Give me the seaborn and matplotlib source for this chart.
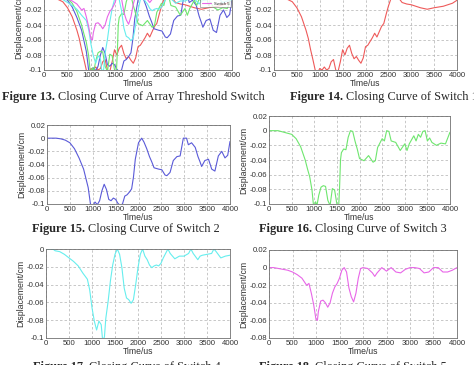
import numpy as np
import pandas as pd
import matplotlib
matplotlib.use("Agg")
import matplotlib.pyplot as plt
import seaborn as sns
from matplotlib.ticker import FuncFormatter

# values (time in us, displacement in cm)

t1 = [0, 100, 200, 300, 400, 500, 600, 700, 750, 800, 850, 900, 950, 1000, 1050, 1100, 1150, 1200, 1250,
      1300, 1350, 1400, 1450, 1500, 1550, 1600, 1650, 1700, 1750, 1800, 1850, 1900, 1950, 2000, 2050, 2100,
      2150, 2200, 2250, 2300, 2350, 2400, 2450, 2500, 2550, 2600, 2650, 2700, 2750, 2800, 2900, 3000, 3100,
      3200, 3350, 3500, 3700, 3900, 4000]
v1 = [0, 0, -0.002, -0.006, -0.009, -0.017, -0.029, -0.047, -0.058, -0.073, -0.086, -0.1, -0.104, -0.098,
      -0.1, -0.096, -0.1, -0.098, -0.089, -0.086, -0.1, -0.102, -0.089, -0.073, -0.08, -0.071, -0.067, -0.078,
      -0.085, -0.082, -0.087, -0.091, -0.084, -0.069, -0.067, -0.062, -0.057, -0.051, -0.056, -0.049, -0.042,
      -0.038, -0.026, -0.015, -0.006, 0.0, 0.002, 0.0, -0.006, -0.01, -0.012, -0.013, -0.015, -0.017, -0.019,
      -0.017, -0.015, -0.011, -0.007]

t2 = [0, 200, 300, 400, 500, 600, 700, 800, 900, 950, 1000, 1050, 1100, 1150, 1200, 1250, 1300, 1350, 1400,
      1450, 1500, 1550, 1600, 1650, 1700, 1750, 1800, 1850, 1890, 1930, 2000, 2070, 2120, 2180, 2240, 2290,
      2340, 2440, 2510, 2580, 2620, 2690, 2760, 2840, 2910, 2980, 3050, 3090, 3160, 3240, 3300, 3345, 3380,
      3450, 3530, 3600, 3670, 3745, 3820, 3890, 3950, 4000]
v2 = [0, 0, -0.001, -0.003, -0.007, -0.016, -0.03, -0.047, -0.075, -0.1, -0.103, -0.097, -0.101, -0.095,
      -0.08, -0.07, -0.078, -0.093, -0.095, -0.091, -0.093, -0.099, -0.102, -0.1, -0.088, -0.086, -0.082,
      -0.077, -0.059, -0.032, -0.007, 0.0, -0.006, -0.016, -0.028, -0.036, -0.045, -0.047, -0.048, -0.056,
      -0.057, -0.052, -0.034, -0.028, -0.027, 0.0, 0.0, -0.01, -0.007, -0.014, -0.028, -0.036, -0.043, -0.034,
      -0.032, -0.047, -0.05, -0.027, -0.02, -0.03, -0.026, -0.005]

t3 = [0, 200, 500, 600, 700, 800, 850, 900, 950, 980, 1000, 1030, 1060, 1100, 1150, 1200, 1250, 1300, 1350,
      1400, 1450, 1500, 1540, 1560, 1580, 1600, 1650, 1700, 1750, 1800, 1850, 1900, 1950, 2000, 2100, 2200,
      2300, 2350, 2400, 2500, 2550, 2600, 2650, 2700, 2800, 2900, 3000, 3050, 3100, 3200, 3250, 3300, 3350,
      3400, 3450, 3500, 3550, 3600, 3700, 3800, 3900, 4000]
v3 = [0, 0, -0.005, -0.011, -0.022, -0.04, -0.052, -0.063, -0.081, -0.1, -0.103, -0.097, -0.102, -0.088,
      -0.077, -0.075, -0.076, -0.095, -0.102, -0.079, -0.081, -0.1, -0.103, -0.077, -0.04, -0.03, -0.025,
      -0.026, -0.009, 0.0, -0.001, -0.014, -0.025, -0.038, -0.041, -0.034, -0.043, -0.041, -0.023, -0.011,
      -0.014, 0.0, -0.001, -0.014, -0.016, -0.027, -0.018, -0.027, -0.018, -0.007, -0.014, -0.005, -0.009,
      -0.001, 0.0, -0.014, -0.01, -0.016, -0.02, -0.017, -0.018, -0.002]

t4 = [0, 150, 200, 300, 400, 500, 600, 700, 800, 900, 950, 1000, 1050, 1100, 1150, 1200, 1230, 1270, 1300,
      1350, 1400, 1450, 1500, 1550, 1600, 1650, 1700, 1750, 1800, 1850, 1900, 1950, 2000, 2050, 2100, 2150,
      2200, 2250, 2300, 2350, 2400, 2450, 2500, 2550, 2600, 2650, 2700, 2800, 2900, 3000, 3100, 3150, 3200,
      3300, 3350, 3400, 3500, 3600, 3650, 3700, 3800, 3900, 4000]
v4 = [0, 0, -0.002, -0.003, -0.006, -0.01, -0.014, -0.019, -0.027, -0.034, -0.046, -0.066, -0.081, -0.091,
      -0.081, -0.085, -0.102, -0.099, -0.078, -0.059, -0.036, -0.018, -0.006, 0.0, -0.006, -0.021, -0.044,
      -0.055, -0.057, -0.061, -0.057, -0.04, -0.021, -0.006, 0.0, -0.008, -0.012, -0.018, -0.021, -0.019,
      -0.018, -0.019, -0.016, -0.01, -0.005, 0.0, -0.005, -0.011, -0.008, -0.008, -0.005, 0.0, -0.005, -0.012,
      -0.008, -0.007, -0.006, -0.005, 0.0, -0.003, -0.01, -0.008, -0.007]

t5 = [0, 100, 200, 300, 400, 500, 600, 650, 700, 750, 800, 850, 900, 950, 1000, 1030, 1050, 1100, 1150, 1200,
      1250, 1300, 1350, 1400, 1450, 1500, 1550, 1600, 1650, 1700, 1750, 1800, 1850, 1900, 1950, 2000, 2100,
      2200, 2250, 2300, 2400, 2500, 2600, 2700, 2800, 2900, 3000, 3100, 3200, 3300, 3400, 3500, 3600, 3700,
      3800, 3900, 4000]
v5 = [0, 0, -0.001, -0.002, -0.003, -0.005, -0.008, -0.01, -0.012, -0.016, -0.02, -0.018, -0.029, -0.042,
      -0.059, -0.06, -0.05, -0.038, -0.037, -0.04, -0.045, -0.04, -0.029, -0.022, -0.018, -0.012, -0.003, 0.0,
      -0.005, -0.023, -0.033, -0.039, -0.029, -0.012, -0.001, 0.0, -0.001, -0.006, -0.01, -0.006, 0.0, -0.004,
      0.0, -0.005, -0.006, -0.002, 0.0, 0.0, -0.001, -0.006, -0.005, 0.0, 0.0, -0.005, -0.005, -0.003, 0.0]

names = ["Switch 1", "Switch 2", "Switch 3", "Switch 4", "Switch 5"]
colors = ["#ee5a5a", "#5a5ad8", "#6ee66e", "#66eeee", "#e866e8"]
times = [t1, t2, t3, t4, t5]
vals = [v1, v2, v3, v4, v5]

captions = [("Figure 13.", "Closing Curve of Array Threshold Switch"),
            ("Figure 14.", "Closing Curve of Switch 1"),
            ("Figure 15.", "Closing Curve of Switch 2"),
            ("Figure 16.", "Closing Curve of Switch 3"),
            ("Figure 17.", "Closing Curve of Switch 4"),
            ("Figure 18.", "Closing Curve of Switch 5")]

df = pd.concat([pd.DataFrame({"t": t, "d": v, "switch": n}) for t, v, n in zip(times, vals, names)])

sns.set_style("white")
plt.rcParams["font.family"] = ["Liberation Sans", "DejaVu Sans"]
plt.rcParams["axes.unicode_minus"] = False

W, H = 474, 365
fig = plt.figure(figsize=(W / 100, H / 100), dpi=100)


def add_ax(left, right, top, bottom):
    return fig.add_axes([left / W, 1 - bottom / H, (right - left) / W, (bottom - top) / H])


def fmt(v, p):
    if abs(v) < 1e-9:
        return "0"
    return "%g" % round(v, 2)


def style(ax, ymin, ymax):
    ax.set_xlim(0, 4000)
    ax.set_ylim(ymin, ymax)
    ax.set_xticks(np.arange(0, 4001, 500))
    ax.set_yticks(np.round(np.arange(ymin, ymax + 1e-9, 0.02), 2))
    ax.yaxis.set_major_formatter(FuncFormatter(fmt))
    ax.grid(True, ls=(0, (3.5, 3)), color="#b0b0b0", lw=0.5)
    ax.tick_params(direction="in", length=2, width=0.5, labelsize=5.6, pad=1.2,
                   labelcolor="#333333", color="#555555")
    for s in ax.spines.values():
        s.set_color("#707070")
        s.set_linewidth(0.6)
    ax.set_xlabel("Time/us", fontsize=6.2, labelpad=0, color="#333333")
    ax.set_ylabel("Displacement/cm", fontsize=6.3, labelpad=1, color="#333333")


# figure 13: all switches together
ax13 = add_ax(44, 232, -20, 70)
sns.lineplot(data=df, x="t", y="d", hue="switch", palette=colors, estimator=None, sort=False,
             lw=0.8, ax=ax13)
style(ax13, -0.1, 0.02)
leg = ax13.legend(loc="upper right", fontsize=3, frameon=True, handlelength=2.2,
                  borderpad=0.3, labelspacing=0.2, borderaxespad=0.3)
leg.get_frame().set_edgecolor("#555555")
leg.get_frame().set_linewidth(0.4)
leg.get_frame().set_boxstyle("square", pad=0)

boxes = [(274, 457, -20, 70, -0.1, 0.02),
         (47, 230, 125, 204, -0.1, 0.02),
         (269, 450, 116, 204, -0.1, 0.02),
         (46, 230, 249, 338, -0.1, 0.0),
         (269, 457, 250, 338, -0.08, 0.02)]
for i, (l, r, tp, b, ymin, ymax) in enumerate(boxes):
    ax = add_ax(l, r, tp, b)
    sns.lineplot(x=times[i], y=vals[i], color=colors[i], lw=0.8, estimator=None, sort=False, ax=ax)
    style(ax, ymin, ymax)

# captions
over = fig.add_axes([0, 0, 1, 1], zorder=-5)
over.axis("off")
cap_pos = [(2, 97), (290, 97), (32, 229), (259, 229), (33, 367), (259, 367)]
for (num, rest), (x, y) in zip(captions, cap_pos):
    t = over.text(x / W, 1 - y / H, num, fontsize=8.8, fontweight="bold", family="Liberation Serif",
                  va="center", ha="left", transform=over.transAxes)
    over.annotate(rest, xy=(1, 0.5), xycoords=t, xytext=(2.2, 0), textcoords="offset points",
                  fontsize=8.8, family="Liberation Serif", va="center", ha="left")

fig.savefig("out.png", dpi=100)
